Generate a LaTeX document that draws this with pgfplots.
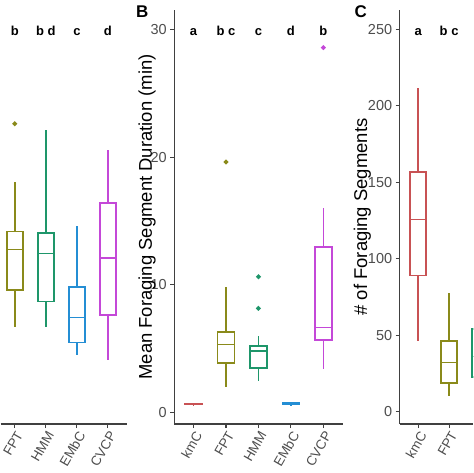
\documentclass[border=0pt]{standalone}
\usepackage{pgfplots}
\pgfplotsset{compat=1.18}
\usepgfplotslibrary{statistics}
\usepackage{fontspec}
\setmainfont{Liberation Sans}

\definecolor{ckmC}{RGB}{200,82,84}
\definecolor{cFPT}{RGB}{138,138,26}
\definecolor{cHMM}{RGB}{30,150,106}
\definecolor{cEMbC}{RGB}{36,142,212}
\definecolor{cCVCP}{RGB}{196,72,216}
\definecolor{axisgray}{RGB}{64,64,64}
\definecolor{ticktext}{RGB}{77,77,77}

\tikzset{
  letter/.style={font=\bfseries\fontsize{13}{14}\selectfont, anchor=base},
}

\pgfplotsset{
  panel/.style={
    scale only axis,
    height=415pt,
    axis lines*=left,
    axis line style={axisgray, line width=1.1pt},
    tick align=outside,
    major tick length=4pt,
    tick style={axisgray, line width=1.1pt},
    xtick={1,2,3,4,5},
    xticklabels={kmC,FPT,HMM,EMbC,CVCP},
    x tick label style={rotate=60, anchor=north east, inner sep=1.5pt,
      font=\fontsize{13.5}{15}\selectfont, text=ticktext},
    y tick label style={font=\fontsize{14.5}{16}\selectfont, text=ticktext},
    /pgf/number format/assume math mode=true,
    ylabel style={font=\fontsize{18.5}{20}\selectfont, anchor=center},
    boxplot/draw direction=y,
    boxplot/box extend=0.52,
    boxplot/whisker extend=0,
    boxplot/every box/.style={line width=1.6pt},
    boxplot/every median/.style={line width=1.6pt},
    boxplot/every whisker/.style={line width=1.6pt},
  },
  grp/.style={line width=1.6pt, color=#1, solid, mark=*, mark size=1.5pt,
    mark options={solid, fill=#1, draw=none}},
}

\begin{document}
\begin{tikzpicture}
% page frame
\path (0pt,0pt) rectangle (474pt,474pt);

% ---------- Panel A (its left part lies beyond the frame) ----------
\begin{axis}[panel, at={(0pt,49pt)}, anchor=south west, width=126.3pt,
  xmin=1.541, xmax=5.6,
  ymin=-0.915, ymax=31.53, ytick=\empty,
  y axis line style={draw=none}]
\addplot[grp=cFPT, boxplot prepared={draw position=2,
  lower whisker=6.72, lower quartile=9.59, median=12.77,
  upper quartile=14.18, upper whisker=18.03}]
  table[row sep=\\, y index=0] {v\\ 22.62\\};
\addplot[grp=cHMM, boxplot prepared={draw position=3,
  lower whisker=6.72, lower quartile=8.70, median=12.46,
  upper quartile=14.07, upper whisker=22.10}] coordinates {};
\addplot[grp=cEMbC, boxplot prepared={draw position=4,
  lower whisker=4.48, lower quartile=5.47, median=7.43,
  upper quartile=9.80, upper whisker=14.59}] coordinates {};
\addplot[grp=cCVCP, boxplot prepared={draw position=5,
  lower whisker=4.11, lower quartile=7.61, median=12.09,
  upper quartile=16.42, upper whisker=20.53}] coordinates {};
\node[letter] at (axis cs:2,29.5) {b};
\node[letter] at (axis cs:3,29.5) {b d};
\node[letter] at (axis cs:4,29.5) {c};
\node[letter] at (axis cs:5,29.5) {d};
\end{axis}

% ---------- Panel B ----------
\begin{axis}[panel, at={(174pt,49pt)}, anchor=south west, width=169pt,
  xmin=0.4, xmax=5.6,
  ymin=-0.915, ymax=31.53, ytick={0,10,20,30},
  ylabel={Mean Foraging Segment Duration (min)},
  ylabel style={at={(axis description cs:-0.16,0.5)}}]
\addplot[grp=ckmC, boxplot prepared={draw position=1,
  lower whisker=0.56, lower quartile=0.61, median=0.65,
  upper quartile=0.69, upper whisker=0.74}] coordinates {};
\addplot[grp=cFPT, boxplot prepared={draw position=2,
  lower whisker=1.95, lower quartile=3.85, median=5.32,
  upper quartile=6.30, upper whisker=9.85}]
  table[row sep=\\, y index=0] {v\\ 19.62\\};
\addplot[grp=cHMM, boxplot prepared={draw position=3,
  lower whisker=2.42, lower quartile=3.46, median=4.82,
  upper quartile=5.21, upper whisker=5.99}]
  table[row sep=\\, y index=0] {v\\ 8.15\\ 10.63\\};
\addplot[grp=cEMbC, boxplot prepared={draw position=4,
  lower whisker=0.50, lower quartile=0.63, median=0.67,
  upper quartile=0.71, upper whisker=0.84}] coordinates {};
\addplot[grp=cCVCP, boxplot prepared={draw position=5,
  lower whisker=3.39, lower quartile=5.68, median=6.65,
  upper quartile=12.95, upper whisker=16.03}]
  table[row sep=\\, y index=0] {v\\ 28.58\\};
\node[letter] at (axis cs:1,29.5) {a};
\node[letter] at (axis cs:2,29.5) {b c};
\node[letter] at (axis cs:3,29.5) {c};
\node[letter] at (axis cs:4,29.5) {d};
\node[letter] at (axis cs:5,29.5) {b};
\end{axis}

% ---------- Panel C (its right part lies beyond the frame) ----------
\begin{axis}[panel, at={(400pt,49pt)}, anchor=south west, width=74pt,
  xmin=0.4, xmax=2.787,
  ymin=-8.15, ymax=262.5, ytick={0,50,100,150,200,250},
  ylabel={\# of Foraging Segments},
  ylabel style={at={(axis description cs:-0.504,0.5)}}]
\addplot[grp=ckmC, boxplot prepared={draw position=1,
  lower whisker=45.8, lower quartile=89.0, median=125.5,
  upper quartile=156.4, upper whisker=211.4}] coordinates {};
\addplot[grp=cFPT, boxplot prepared={draw position=2,
  lower whisker=9.9, lower quartile=18.6, median=32.1,
  upper quartile=46.2, upper whisker=77.7}] coordinates {};
\addplot[grp=cHMM, boxplot prepared={draw position=3,
  lower whisker=8.0, lower quartile=22.7, median=36.0,
  upper quartile=53.8, upper whisker=80.0}] coordinates {};
\node[letter] at (axis cs:1,245.5) {a};
\node[letter] at (axis cs:2,245.5) {b c};
\end{axis}

% panel tags
\node[font=\bfseries\fontsize{17}{19}\selectfont] at (142pt,462pt) {B};
\node[font=\bfseries\fontsize{17}{19}\selectfont] at (361pt,462pt) {C};
\end{tikzpicture}
\end{document}
